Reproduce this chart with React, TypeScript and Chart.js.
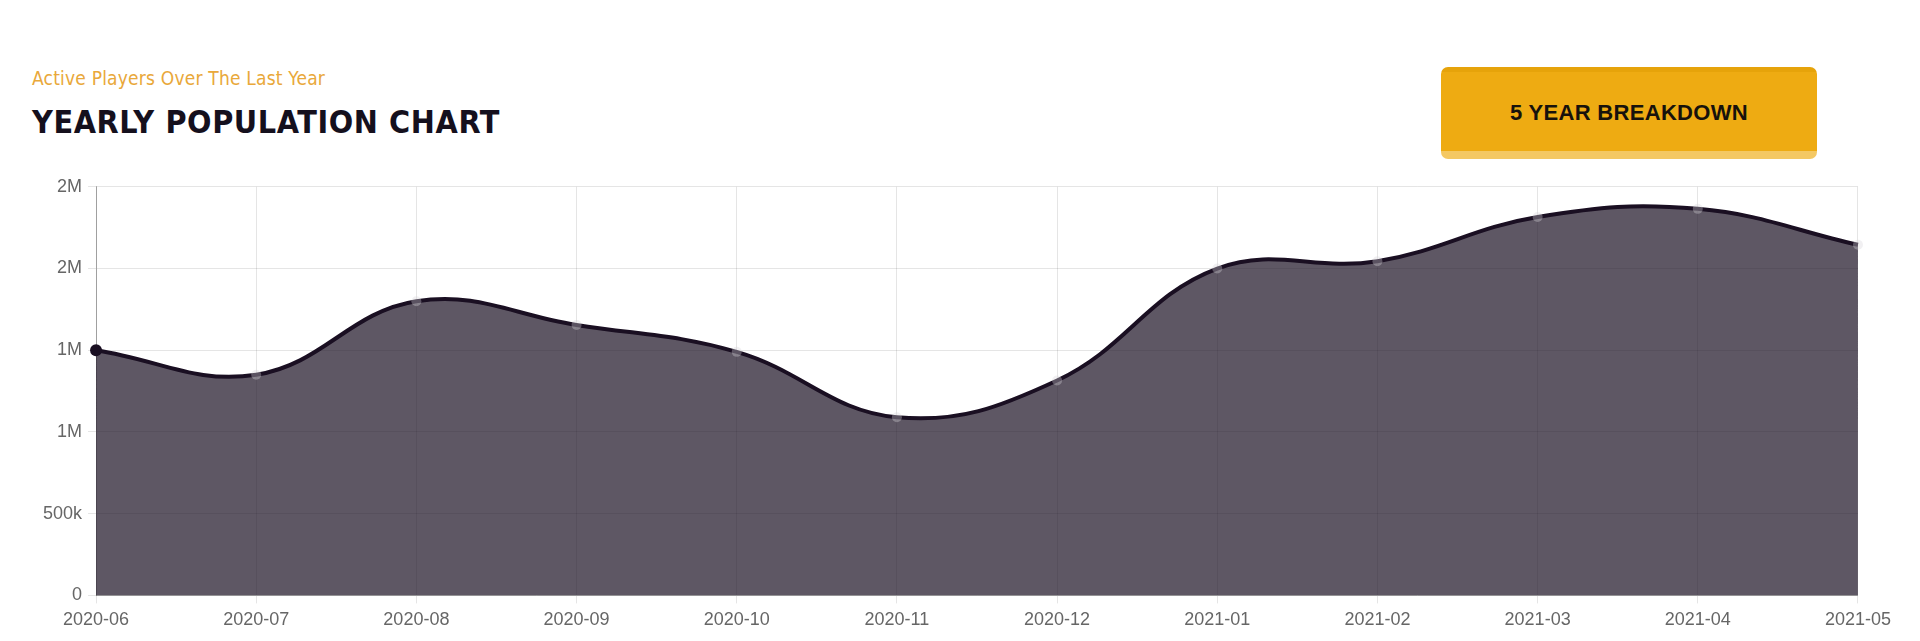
import { useEffect, useRef } from "react";
import { Chart, registerables } from "chart.js";

Chart.register(...registerables);

// months on the x axis
const months = [
  "2020-06", "2020-07", "2020-08", "2020-09", "2020-10", "2020-11",
  "2020-12", "2021-01", "2021-02", "2021-03", "2021-04", "2021-05",
];

// active players
const activePlayers = [
  1500000, 1350000, 1800000, 1655000, 1490000, 1090000,
  1315000, 2000000, 2045000, 2315000, 2365000, 2145000,
];

const yMax = 2500000;
const yStep = 500000;

function formatPlayers(value: number | string) {
  const v = Number(value);
  if (v >= 1000000) return Math.floor(v / 1000000) + "M";
  if (v >= 1000) return Math.floor(v / 1000) + "k";
  return String(v);
}

function PopulationChart() {
  const chartRef = useRef<HTMLCanvasElement | null>(null);

  useEffect(() => {
    if (!chartRef.current) return;
    const ctx = chartRef.current.getContext("2d");
    if (!ctx) return;

    const chart = new Chart(ctx, {
      type: "line",
      data: {
        labels: months,
        datasets: [
          {
            label: "Active Players",
            data: activePlayers,
            fill: true,
            tension: 0.4,
            backgroundColor: "rgba(26, 15, 34, 0.7)",
            borderColor: "#1a0f22",
            borderWidth: 4,
            pointRadius: activePlayers.map((_, i) => (i === 0 ? 6 : 5)),
            pointBorderWidth: 0,
            pointBackgroundColor: activePlayers.map((_, i) =>
              i === 0 ? "#1a0f22" : "rgba(215, 212, 218, 0.35)"
            ),
          },
        ],
      },
      options: {
        animation: false,
        responsive: true,
        maintainAspectRatio: false,
        plugins: {
          legend: { display: false },
          tooltip: { enabled: false },
        },
        scales: {
          x: {
            ticks: {
              color: "#666",
              padding: 6,
              font: { size: 18, family: "'Liberation Sans', Arial, sans-serif" },
              maxRotation: 0,
            },
            grid: { color: "rgba(0, 0, 0, 0.1)" },
            border: { color: "rgba(0, 0, 0, 0.3)" },
          },
          y: {
            min: 0,
            max: yMax,
            ticks: {
              stepSize: yStep,
              color: "#666",
              padding: 6,
              font: { size: 18, family: "'Liberation Sans', Arial, sans-serif" },
              callback: formatPlayers,
            },
            grid: { color: "rgba(0, 0, 0, 0.1)" },
            border: { color: "rgba(0, 0, 0, 0.3)" },
          },
        },
      },
    });

    return () => {
      chart.destroy();
    };
  }, []);

  return <canvas ref={chartRef}></canvas>;
}

export default function App() {
  return (
    <div
      style={{
        position: "absolute",
        left: 0,
        top: 0,
        width: 1920,
        height: 641,
        background: "#fff",
        overflow: "hidden",
      }}
    >
      <div
        style={{
          position: "absolute",
          left: 32,
          top: 67,
          color: "#e9a83a",
          fontFamily: "'Liberation Sans Narrow', 'DejaVu Sans Condensed', sans-serif",
          fontSize: 19,
          letterSpacing: 0.2,
          whiteSpace: "nowrap",
        }}
      >
        Active Players Over The Last Year
      </div>
      <div
        style={{
          position: "absolute",
          left: 32,
          top: 103,
          color: "#15101d",
          fontFamily: "'Liberation Sans Narrow', 'DejaVu Sans Condensed', sans-serif",
          fontWeight: 700,
          fontSize: 32,
          letterSpacing: 0.6,
          whiteSpace: "nowrap",
        }}
      >
        YEARLY POPULATION CHART
      </div>
      <div
        style={{
          position: "absolute",
          left: 1441,
          top: 67,
          width: 376,
          height: 92,
          borderRadius: 7,
          background:
            "linear-gradient(to bottom, #e6a30a 0px, #e6a30a 5px, #eeab12 5px, #eeab12 84px, #f4c863 84px)",
          display: "flex",
          alignItems: "center",
          justifyContent: "center",
          color: "#17120c",
          fontFamily: "'Liberation Sans', Arial, sans-serif",
          fontWeight: 700,
          fontSize: 22,
          letterSpacing: 0.3,
        }}
      >
        5 YEAR BREAKDOWN
      </div>
      <div
        style={{
          position: "absolute",
          left: 37,
          top: 170,
          width: 1860,
          height: 467,
        }}
      >
        <PopulationChart />
      </div>
    </div>
  );
}
